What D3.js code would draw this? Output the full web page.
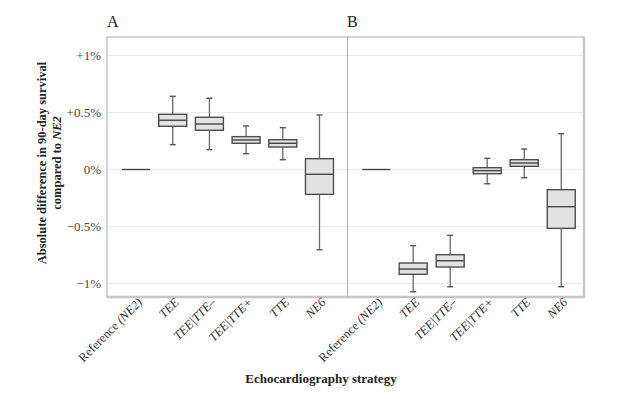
<!DOCTYPE html>
<html>
<head>
<meta charset="utf-8">
<script src="https://cdn.jsdelivr.net/npm/d3@7"></script>
<style>
body { margin: 0; background: #fff; }
text { font-family: "Liberation Serif", "DejaVu Serif", serif; }
</style>
</head>
<body>
<div id="chart"></div>
<script>
// categories along each panel
var categories = ["Reference (NE2)", "TEE", "TEE|TTE–", "TEE|TTE+", "TTE", "NE6"];
var panelNames = ["A", "B"];

// panel A box stats (% difference)
var lowA  = [0, 0.218, 0.174, 0.139, 0.086, -0.703];
var q1A   = [0, 0.379, 0.344, 0.230, 0.197, -0.218];
var medA  = [0, 0.432, 0.399, 0.259, 0.230, -0.042];
var q3A   = [0, 0.484, 0.458, 0.288, 0.261, 0.095];
var highA = [0, 0.642, 0.625, 0.382, 0.367, 0.478];

// panel B box stats
var lowB  = [0, -1.072, -1.028, -0.125, -0.072, -1.028];
var q1B   = [0, -0.919, -0.855, -0.037, 0.028, -0.516];
var medB  = [0, -0.873, -0.800, -0.010, 0.057, -0.326];
var q3B   = [0, -0.820, -0.747, 0.016, 0.086, -0.177];
var highB = [0, -0.668, -0.577, 0.098, 0.180, 0.314];

var yTicks = [-1, -0.5, 0, 0.5, 1];
var yTickLabels = ["−1%", "−0.5%", "0%", "+0.5%", "+1%"];

var width = 624, height = 399;
var plot = {left: 107, right: 584, top: 37, bottom: 297, divider: 347.5};

var svg = d3.select("#chart").append("svg")
	.attr("width", width)
	.attr("height", height);

var y = d3.scaleLinear().domain([-1.118, 1.162]).range([plot.bottom, plot.top]);

var xA = d3.scalePoint().domain(categories).range([108.5, 347]).padding(0.75);
var xB = d3.scalePoint().domain(categories).range([348.4, 589]).padding(0.75);

// gridlines
svg.append("g").selectAll("line")
	.data(yTicks)
	.enter().append("line")
	.attr("x1", plot.left).attr("x2", plot.right)
	.attr("y1", function(d) { return y(d); })
	.attr("y2", function(d) { return y(d); })
	.style("stroke", "#ececec")
	.style("stroke-width", 1);

// y axis labels through d3 axis
var yAxis = d3.axisLeft(y)
	.tickValues(yTicks)
	.tickSize(0)
	.tickPadding(6)
	.tickFormat(function(d, i) { return yTickLabels[i]; });

var gy = svg.append("g")
	.attr("transform", "translate(" + plot.left + ",0)")
	.call(yAxis);
gy.select(".domain").remove();
gy.selectAll("text")
	.style("font-family", "'Liberation Serif', serif")
	.style("font-size", "13px")
	.style("fill", "#4a4a4a");

// frame
svg.append("rect")
	.attr("x", plot.left).attr("y", plot.top)
	.attr("width", plot.right - plot.left).attr("height", plot.bottom - plot.top)
	.style("fill", "none")
	.style("stroke", "#b8b8b8")
	.style("stroke-width", 1.2);
svg.append("path")
	.attr("d", "M" + plot.right + "," + plot.top + "V" + plot.bottom + "H" + plot.left)
	.style("fill", "none")
	.style("stroke", "#c6c6c6")
	.style("stroke-width", 2.4);
svg.append("line")
	.attr("x1", plot.divider).attr("x2", plot.divider)
	.attr("y1", plot.top).attr("y2", plot.bottom)
	.style("stroke", "#b0b0b0")
	.style("stroke-width", 1);

function drawPanel(x, low, q1, med, q3, high, name, labelX) {
	var rows = categories.map(function(c, i) {
		return {cat: c, low: low[i], q1: q1[i], med: med[i], q3: q3[i], high: high[i]};
	});
	var bw = 28, cap = 6;
	var g = svg.append("g");

	var box = g.selectAll(".box")
		.data(rows)
		.enter().append("g")
		.attr("class", "box");

	box.filter(function(d) { return d.high != d.low; }).each(function(d) {
		var s = d3.select(this), cx = x(d.cat);
		s.append("line")
			.attr("x1", cx).attr("x2", cx)
			.attr("y1", y(d.high)).attr("y2", y(d.q3))
			.style("stroke", "#6a6a6a").style("stroke-width", 1.3);
		s.append("line")
			.attr("x1", cx).attr("x2", cx)
			.attr("y1", y(d.q1)).attr("y2", y(d.low))
			.style("stroke", "#6a6a6a").style("stroke-width", 1.3);
		[d.high, d.low].forEach(function(v) {
			s.append("line")
				.attr("x1", cx - cap / 2).attr("x2", cx + cap / 2)
				.attr("y1", y(v)).attr("y2", y(v))
				.style("stroke", "#555").style("stroke-width", 1.4);
		});
		s.append("rect")
			.attr("x", cx - bw / 2).attr("width", bw)
			.attr("y", y(d.q3)).attr("height", y(d.q1) - y(d.q3))
			.style("fill", "#e2e2e2")
			.style("stroke", "#4d4d4d").style("stroke-width", 1.4);
	});

	// median line (reference is only this line)
	box.append("line")
		.attr("x1", function(d) { return x(d.cat) - bw / 2; })
		.attr("x2", function(d) { return x(d.cat) + bw / 2; })
		.attr("y1", function(d) { return y(d.med); })
		.attr("y2", function(d) { return y(d.med); })
		.style("stroke", "#444").style("stroke-width", 1.4);

	// category labels, rotated
	var lab = g.selectAll(".cat")
		.data(categories)
		.enter().append("text")
		.attr("class", "cat")
		.attr("transform", function(d) { return "translate(" + (x(d) + 7) + "," + 303 + ") rotate(-45)"; })
		.attr("text-anchor", "end")
		.style("font-size", "12.5px")
		.style("fill", "#333");
	lab.each(function(d) {
		var t = d3.select(this);
		if (d.indexOf("Reference") == 0) {
			t.append("tspan").text("Reference ");
			t.append("tspan").style("font-style", "italic").text("(NE2)");
		} else {
			t.append("tspan").style("font-style", "italic").text(d);
		}
	});

	svg.append("text")
		.attr("x", labelX).attr("y", 27)
		.style("font-size", "16px")
		.style("fill", "#222")
		.text(name);
}

drawPanel(xA, lowA, q1A, medA, q3A, highA, panelNames[0], 107);
drawPanel(xB, lowB, q1B, medB, q3B, highB, panelNames[1], 347);

// axis titles
var yt = svg.append("text")
	.attr("transform", "translate(46,163) rotate(-90)")
	.attr("text-anchor", "middle")
	.style("font-size", "12.5px")
	.style("font-weight", "bold")
	.style("fill", "#222");
yt.append("tspan").attr("x", 0).attr("y", 0).text("Absolute difference in 90-day survival");
var yt2 = yt.append("tspan").attr("x", 0).attr("y", 0).attr("dy", 14.5);
yt2.append("tspan").text("compared to ");
yt2.append("tspan").style("font-style", "italic").text("NE2");

svg.append("text")
	.attr("x", 321).attr("y", 383)
	.attr("text-anchor", "middle")
	.style("font-size", "13px")
	.style("font-weight", "bold")
	.style("fill", "#222")
	.text("Echocardiography strategy");
</script>
</body>
</html>
